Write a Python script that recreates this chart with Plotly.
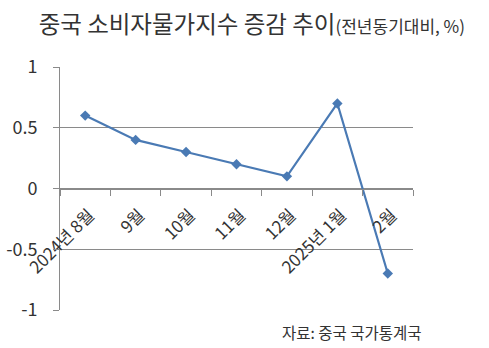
import plotly.graph_objects as go

categories = ["2024년 8월", "9월", "10월", "11월", "12월", "2025년 1월", "2월"]
values = [0.6, 0.4, 0.3, 0.2, 0.1, 0.7, -0.7]
y_tickvals = [1, 0.5, 0, -0.5, -1]
y_ticktext = ["1", "0.5", "0", "-0.5", "-1"]

FONT = "Noto Sans CJK KR"
GRID = "#8a8a8a"

fig = go.Figure()
fig.add_trace(go.Scatter(
    x=categories, y=values, mode="lines+markers",
    line=dict(color="#4a7ab4", width=2.2),
    marker=dict(symbol="diamond", size=8, color="#4a7ab4"),
))

fig.update_layout(
    width=489, height=348,
    margin=dict(l=60, r=76, t=67, b=38),
    paper_bgcolor="white", plot_bgcolor="white",
    showlegend=False,
    font=dict(family=FONT, color="#333333"),
    title=dict(
        text="중국 소비자물가지수 증감 추이<span style='font-size:17px'>(전년동기대비, %)</span>",
        x=0.515, xanchor="center", y=0.93, yanchor="middle",
        font=dict(size=23.5, family=FONT, color="#333333"),
    ),
    xaxis=dict(
        type="category", range=[-0.5, 6.5],
        anchor="free", position=0.5,
        showline=True, linecolor=GRID, linewidth=1,
        ticks="outside", ticklen=6, tickcolor=GRID, tickson="boundaries",
        showgrid=False, tickangle=-45,
        tickfont=dict(size=17, family=FONT, color="#333333"),
        ticklabelstandoff=9, ticklabelshift=4,
        automargin=False,
    ),
    yaxis=dict(
        range=[-1, 1], tickvals=y_tickvals, ticktext=y_ticktext,
        showline=True, linecolor=GRID, linewidth=1,
        ticks="outside", ticklen=6, tickcolor=GRID,
        showgrid=True, gridcolor=GRID, gridwidth=1, zeroline=False,
        tickfont=dict(size=18, family=FONT, color="#333333"),
        ticklabelstandoff=12,
        automargin=False,
    ),
    annotations=[dict(
        text="자료: 중국 국가통계국", xref="paper", yref="paper",
        x=1.03, y=-0.035, xanchor="right", yanchor="top", showarrow=False,
        font=dict(size=15.5, family=FONT, color="#333333"),
    )],
)

fig.write_html("out.html")
